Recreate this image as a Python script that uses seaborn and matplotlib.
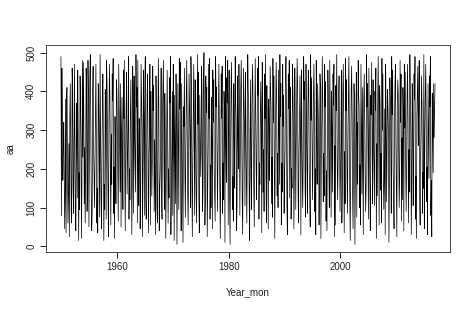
import matplotlib
matplotlib.use("Agg")
import matplotlib.pyplot as plt
import seaborn as sns
import numpy as np
import pandas as pd

start_year = 1950
rows = [
    [490, 80, 460, 355, 170, 260, 320, 190, 45, 130, 380, 35],
    [390, 410, 200, 60, 140, 265, 25, 330, 420, 245, 90, 60],
    [460, 400, 150, 85, 300, 470, 210, 65, 40, 370, 290, 125],
    [455, 300, 15, 190, 95, 440, 375, 260, 20, 170, 480, 230],
    [475, 340, 110, 255, 60, 200, 460, 415, 90, 155, 480, 385],
    [50, 225, 440, 495, 310, 140, 40, 85, 395, 465, 270, 180],
    [100, 210, 330, 470, 285, 60, 150, 35, 420, 390, 240, 75],
    [495, 300, 120, 45, 230, 365, 445, 280, 15, 160, 95, 405],
    [350, 70, 480, 410, 255, 130, 25, 325, 470, 395, 190, 55],
    [290, 160, 445, 375, 485, 85, 205, 20, 335, 260, 110, 430],
    [405, 310, 180, 65, 470, 360, 240, 140, 420, 50, 290, 385],
    [215, 95, 455, 330, 480, 175, 40, 255, 370, 450, 135, 230],
    [310, 490, 70, 200, 120, 345, 430, 275, 30, 160, 465, 390],
    [85, 440, 300, 225, 140, 495, 360, 410, 60, 480, 190, 105],
    [330, 265, 45, 150, 470, 385, 300, 25, 210, 455, 340, 80],
    [420, 490, 120, 70, 260, 395, 445, 180, 35, 235, 310, 470],
    [55, 400, 290, 130, 215, 465, 350, 415, 90, 275, 160, 30],
    [440, 325, 105, 60, 250, 485, 380, 40, 145, 190, 300, 460],
    [120, 70, 345, 410, 480, 230, 95, 395, 265, 20, 175, 310],
    [455, 285, 60, 200, 125, 435, 370, 490, 30, 150, 240, 400],
    [80, 470, 330, 15, 390, 260, 110, 445, 300, 5, 185, 420],
    [250, 95, 485, 355, 475, 160, 40, 420, 280, 130, 10, 360],
    [310, 460, 200, 75, 250, 395, 480, 325, 140, 55, 190, 445],
    [370, 290, 100, 490, 405, 165, 25, 220, 340, 470, 275, 80],
    [430, 360, 150, 60, 205, 495, 315, 450, 115, 35, 390, 280],
    [180, 240, 465, 375, 90, 160, 420, 500, 300, 55, 120, 440],
    [345, 410, 25, 140, 260, 470, 330, 485, 70, 210, 100, 385],
    [275, 45, 455, 320, 430, 195, 130, 65, 490, 360, 410, 240],
    [90, 225, 380, 470, 295, 150, 20, 175, 445, 330, 465, 85],
    [215, 120, 400, 350, 10, 490, 285, 165, 435, 370, 480, 55],
    [310, 455, 140, 5, 230, 395, 475, 340, 95, 180, 65, 420],
    [260, 150, 490, 375, 325, 40, 115, 440, 290, 200, 470, 355],
    [80, 265, 410, 480, 345, 130, 30, 220, 460, 385, 295, 105],
    [450, 330, 170, 60, 245, 495, 400, 355, 125, 15, 275, 430],
    [190, 95, 365, 470, 410, 235, 145, 50, 320, 485, 340, 200],
    [120, 280, 460, 390, 490, 70, 215, 160, 355, 425, 300, 35],
    [475, 370, 140, 250, 90, 445, 330, 495, 195, 60, 415, 280],
    [230, 45, 380, 305, 170, 465, 400, 350, 110, 230, 75, 485],
    [320, 440, 195, 20, 270, 360, 475, 385, 130, 240, 100, 455],
    [290, 160, 495, 335, 420, 55, 215, 140, 470, 310, 390, 85],
    [180, 250, 430, 490, 365, 110, 30, 225, 445, 355, 480, 125],
    [345, 410, 70, 200, 150, 470, 395, 300, 45, 185, 460, 330],
    [95, 265, 375, 485, 420, 135, 60, 245, 315, 440, 295, 30],
    [455, 350, 175, 100, 230, 490, 380, 425, 155, 75, 470, 310],
    [210, 85, 340, 455, 405, 190, 140, 50, 495, 325, 435, 260],
    [120, 230, 390, 470, 345, 90, 200, 30, 480, 285, 160, 420],
    [365, 300, 55, 175, 445, 410, 20, 250, 330, 490, 370, 115],
    [240, 130, 470, 360, 425, 65, 195, 40, 300, 455, 385, 215],
    [100, 480, 335, 160, 75, 400, 290, 140, 445, 365, 470, 25],
    [260, 55, 415, 350, 495, 210, 120, 230, 385, 440, 305, 90],
    [180, 270, 455, 60, 150, 395, 470, 330, 35, 245, 110, 485],
    [350, 430, 200, 85, 265, 375, 490, 310, 125, 15, 230, 405],
    [465, 345, 140, 45, 255, 420, 380, 5, 190, 300, 450, 75],
    [320, 160, 480, 395, 355, 100, 210, 55, 470, 290, 135, 410],
    [240, 30, 375, 445, 330, 185, 90, 150, 495, 360, 420, 250],
    [70, 460, 305, 165, 40, 390, 340, 475, 225, 110, 430, 285],
    [190, 105, 400, 350, 460, 20, 265, 130, 380, 490, 315, 55],
    [415, 370, 145, 240, 60, 485, 300, 445, 205, 95, 170, 355],
    [30, 470, 330, 115, 250, 405, 360, 290, 10, 160, 435, 380],
    [255, 85, 490, 340, 455, 200, 135, 45, 310, 420, 470, 275],
    [150, 25, 365, 430, 390, 230, 100, 175, 480, 320, 445, 65],
    [280, 120, 410, 345, 40, 470, 305, 450, 215, 90, 195, 385],
    [470, 330, 60, 250, 140, 495, 375, 290, 30, 165, 420, 355],
    [105, 215, 445, 380, 490, 70, 180, 20, 335, 400, 465, 260],
    [340, 480, 130, 55, 225, 310, 440, 365, 85, 190, 150, 495],
    [45, 260, 385, 470, 350, 115, 205, 30, 420, 300, 175, 440],
    [360, 490, 80, 170, 25, 395, 310, 190, 420, 280, 355, 420],
]
aa = [v for r in rows for v in r]
x_ticks = [1960, 1980, 2000]
y_ticks = [0, 100, 200, 300, 400, 500]

year_mon = start_year + np.arange(len(aa)) / 12.0
df = pd.DataFrame({"Year_mon": year_mon, "aa": aa})

sns.set_style("white")
plt.rcParams["font.family"] = ["Liberation Sans", "DejaVu Sans"]

fig = plt.figure(figsize=(4.74, 3.10), dpi=100)
ax = fig.add_axes([46/474, 1-252/310, (450-46)/474, (252-45)/310])
sns.lineplot(data=df, x="Year_mon", y="aa", ax=ax, color="black",
             linewidth=0.5, estimator=None)

xmin, xmax = df["Year_mon"].min(), df["Year_mon"].max()
ymin, ymax = df["aa"].min(), df["aa"].max()
ax.set_xlim(xmin - 0.04*(xmax-xmin), xmax + 0.04*(xmax-xmin))
ax.set_ylim(ymin - 0.04*(ymax-ymin), ymax + 0.04*(ymax-ymin))
ax.set_xticks(x_ticks)
ax.set_yticks(y_ticks)
ax.tick_params(axis="both", direction="out", length=4, width=0.7,
               colors="#222222", labelsize=7, pad=3, bottom=True, left=True)
for lab in ax.get_yticklabels():
    lab.set_rotation(90)
    lab.set_va("center")
for s in ax.spines.values():
    s.set_color("#444444")
    s.set_linewidth(0.7)
ax.set_xlabel("Year_mon", fontsize=7, labelpad=11, color="#222222")
ax.set_ylabel("aa", fontsize=7, labelpad=8, color="#222222")
fig.savefig("out.png", dpi=100)
